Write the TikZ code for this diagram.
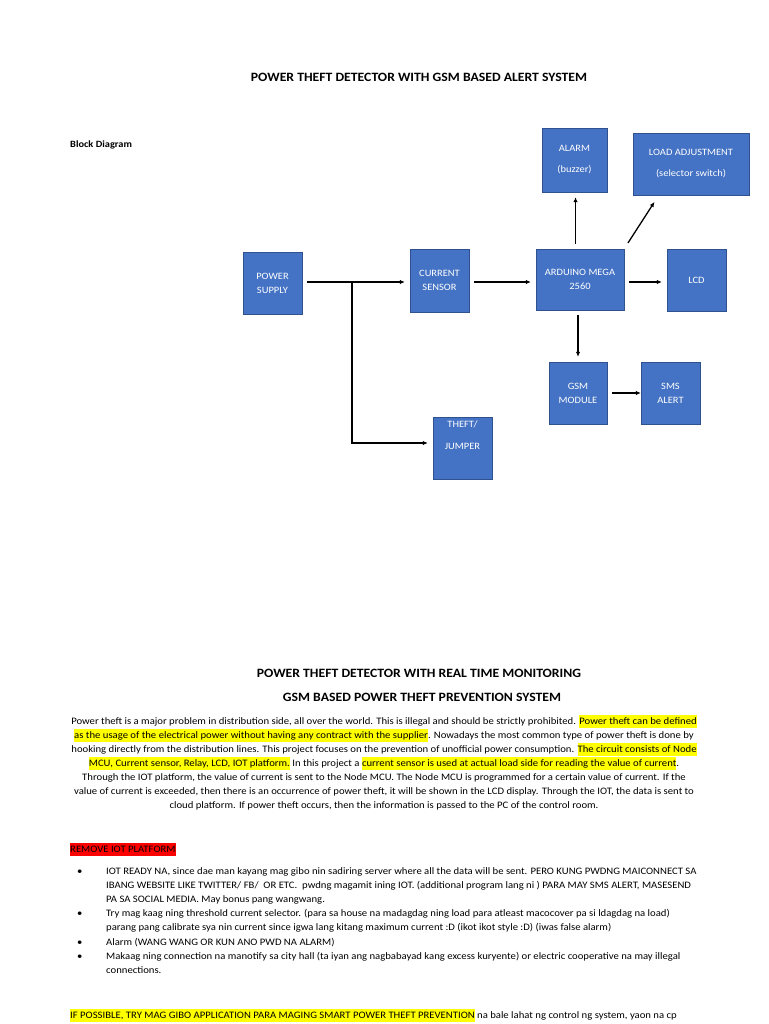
\documentclass[tikz,border=0pt]{standalone}
\usepackage{fontspec}
\setmainfont{Carlito}[FakeStretch=1.08]
\usetikzlibrary{arrows.meta,calc}
\definecolor{boxblue}{HTML}{4472C4}
\definecolor{boxedge}{HTML}{2F528F}
\definecolor{hlyellow}{HTML}{FFFF00}
\definecolor{hlred}{HTML}{FF0000}
\newcommand\hly[1]{{\setlength\fboxsep{0pt}\colorbox{hlyellow}{\strut #1}}}
\newcommand\hlr[1]{{\setlength\fboxsep{0pt}\colorbox{hlred}{\strut #1}}}
\tikzset{
  blk/.style={draw=boxedge, fill=boxblue, text=white, inner sep=0pt,
    align=center, font=\fontsize{9.7}{14}\selectfont},
  arr/.style={-{Latex[length=5pt,width=4.5pt]}, line width=1.3pt,
    shorten <=5pt, shorten >=5pt},
  heading/.style={font=\bfseries\fontsize{12.7}{14}\selectfont, anchor=base, inner sep=0pt},
  body/.style={font=\fontsize{9.9}{12.5}\selectfont, anchor=base, inner sep=0pt},
  bodyleft/.style={body, anchor=base west},
}
\begin{document}
\begin{tikzpicture}[x=1pt,y=-1pt]
  \useasboundingbox[fill=white] (0,0) rectangle (768,1024);
  %==title
  \node[heading] (t1) at (419,82) {POWER THEFT DETECTOR WITH GSM BASED ALERT SYSTEM};
  \node[bodyleft, font=\bfseries\fontsize{9.6}{12}\selectfont] (bd) at (70,148) {Block Diagram};
  %==block diagram
  \node[blk, minimum width=65, minimum height=64] (alarm) at (574.5,160) {ALARM\\[7pt](buzzer)};
  \node[blk, minimum width=116, minimum height=62] (load) at (691,164) {LOAD ADJUSTMENT\\[7pt](selector switch)};
  \node[blk, minimum width=59, minimum height=62] (ps) at (272.5,283) {POWER\\SUPPLY};
  \node[blk, minimum width=59, minimum height=63] (cs) at (439.5,280.5) {CURRENT\\SENSOR};
  \node[blk, minimum width=88, minimum height=61] (ard) at (580,279.5) {ARDUINO MEGA\\2560};
  \node[blk, minimum width=59, minimum height=62] (lcd) at (696.5,280) {LCD};
  \node[blk, minimum width=58, minimum height=62] (gsm) at (578,393) {GSM\\MODULE};
  \node[blk, minimum width=59, minimum height=62] (sms) at (670.5,393) {SMS\\ALERT};
  \node[blk, minimum width=59, minimum height=62] (theft) at (462.5,448) {THEFT/\\[8pt]JUMPER\\[8pt]\strut};
  \coordinate (br) at (352,282);
  \coordinate (ldtip) at ($(load.south west)+(26,0)$);
  %==connectors
  \draw[arr] (ps.east|-br) -- (cs.west|-br);
  \draw[arr, shorten <=0pt] (br) |- ([yshift=5pt]theft.west);
  \draw[arr] (cs.east|-br) -- (ard.west|-br);
  \draw[arr] (ard.east|-br) -- (lcd.west|-br);
  \draw[arr] ([xshift=1pt]ard.north-|alarm) -- ([xshift=1pt]alarm.south);
  \draw[arr, shorten <=7pt, shorten >=8pt] (ard.north east) -- (ldtip);
  \draw[arr] (ard.south-|gsm) -- (gsm.north);
  \draw[arr, shorten >=0pt] (gsm.east) -- (sms.west);
  %==text below
  \node[heading] (t2) at (419,677) {POWER THEFT DETECTOR WITH REAL TIME MONITORING};
  \node[heading] (t3) at (422,701) {GSM BASED POWER THEFT PREVENTION SYSTEM};
  \node[body] (p1) at (384,724) {Power theft is a major problem in distribution side, all over the world. This is illegal and should be strictly prohibited. \hly{Power theft can be defined}};
  \node[body] (p2) at (384,738) {\hly{as the usage of the electrical power without having any contract with the supplier}. Nowadays the most common type of power theft is done by};
  \node[body] (p3) at (384,752) {hooking directly from the distribution lines. This project focuses on the prevention of unofficial power consumption. \hly{The circuit consists of Node}};
  \node[body] (p4) at (384,766) {\hly{MCU, Current sensor, Relay, LCD, IOT platform.} In this project a \hly{current sensor is used at actual load side for reading the value of current}.};
  \node[body] (p5) at (384,780) {Through the IOT platform, the value of current is sent to the Node MCU. The Node MCU is programmed for a certain value of current. If the};
  \node[body] (p6) at (384,794) {value of current is exceeded, then there is an occurrence of power theft, it will be shown in the LCD display. Through the IOT, the data is sent to};
  \node[body] (p7) at (384,808) {cloud platform. If power theft occurs, then the information is passed to the PC of the control room.};
  \node[bodyleft] (rm) at (70,852) {\hlr{REMOVE IOT PLATFORM}};
  %==bullets
  \foreach \y in {874,916,945,959}
    \node[bodyleft] at (77,\y) {\textbullet};
  \node[bodyleft] (b1a) at (106,874) {IOT READY NA, since dae man kayang mag gibo nin sadiring server where all the data will be sent. PERO KUNG PWDNG MAICONNECT SA};
  \node[bodyleft] (b1b) at (106,888) {IBANG WEBSITE LIKE TWITTER/ FB/\ \ OR ETC.\ \ pwdng magamit ining IOT. (additional program lang ni ) PARA MAY SMS ALERT, MASESEND};
  \node[bodyleft] (b1c) at (106,902) {PA SA SOCIAL MEDIA. May bonus pang wangwang.};
  \node[bodyleft] (b2a) at (106,916) {Try mag kaag ning threshold current selector. (para sa house na madagdag ning load para atleast macocover pa si ldagdag na load)};
  \node[bodyleft] (b2b) at (106,930) {parang pang calibrate sya nin current since igwa lang kitang maximum current :D (ikot ikot style :D) (iwas false alarm)};
  \node[bodyleft] (b3) at (106,945) {Alarm (WANG WANG OR KUN ANO PWD NA ALARM)};
  \node[bodyleft] (b4a) at (106,959) {Makaag ning connection na manotify sa city hall (ta iyan ang nagbabayad kang excess kuryente) or electric cooperative na may illegal};
  \node[bodyleft] (b4b) at (106,973) {connections.};
  \node[bodyleft] (last) at (70,1018) {\hly{IF POSSIBLE, TRY MAG GIBO APPLICATION PARA MAGING SMART POWER THEFT PREVENTION} na bale lahat ng control ng system, yaon na cp};
\end{tikzpicture}
\end{document}
